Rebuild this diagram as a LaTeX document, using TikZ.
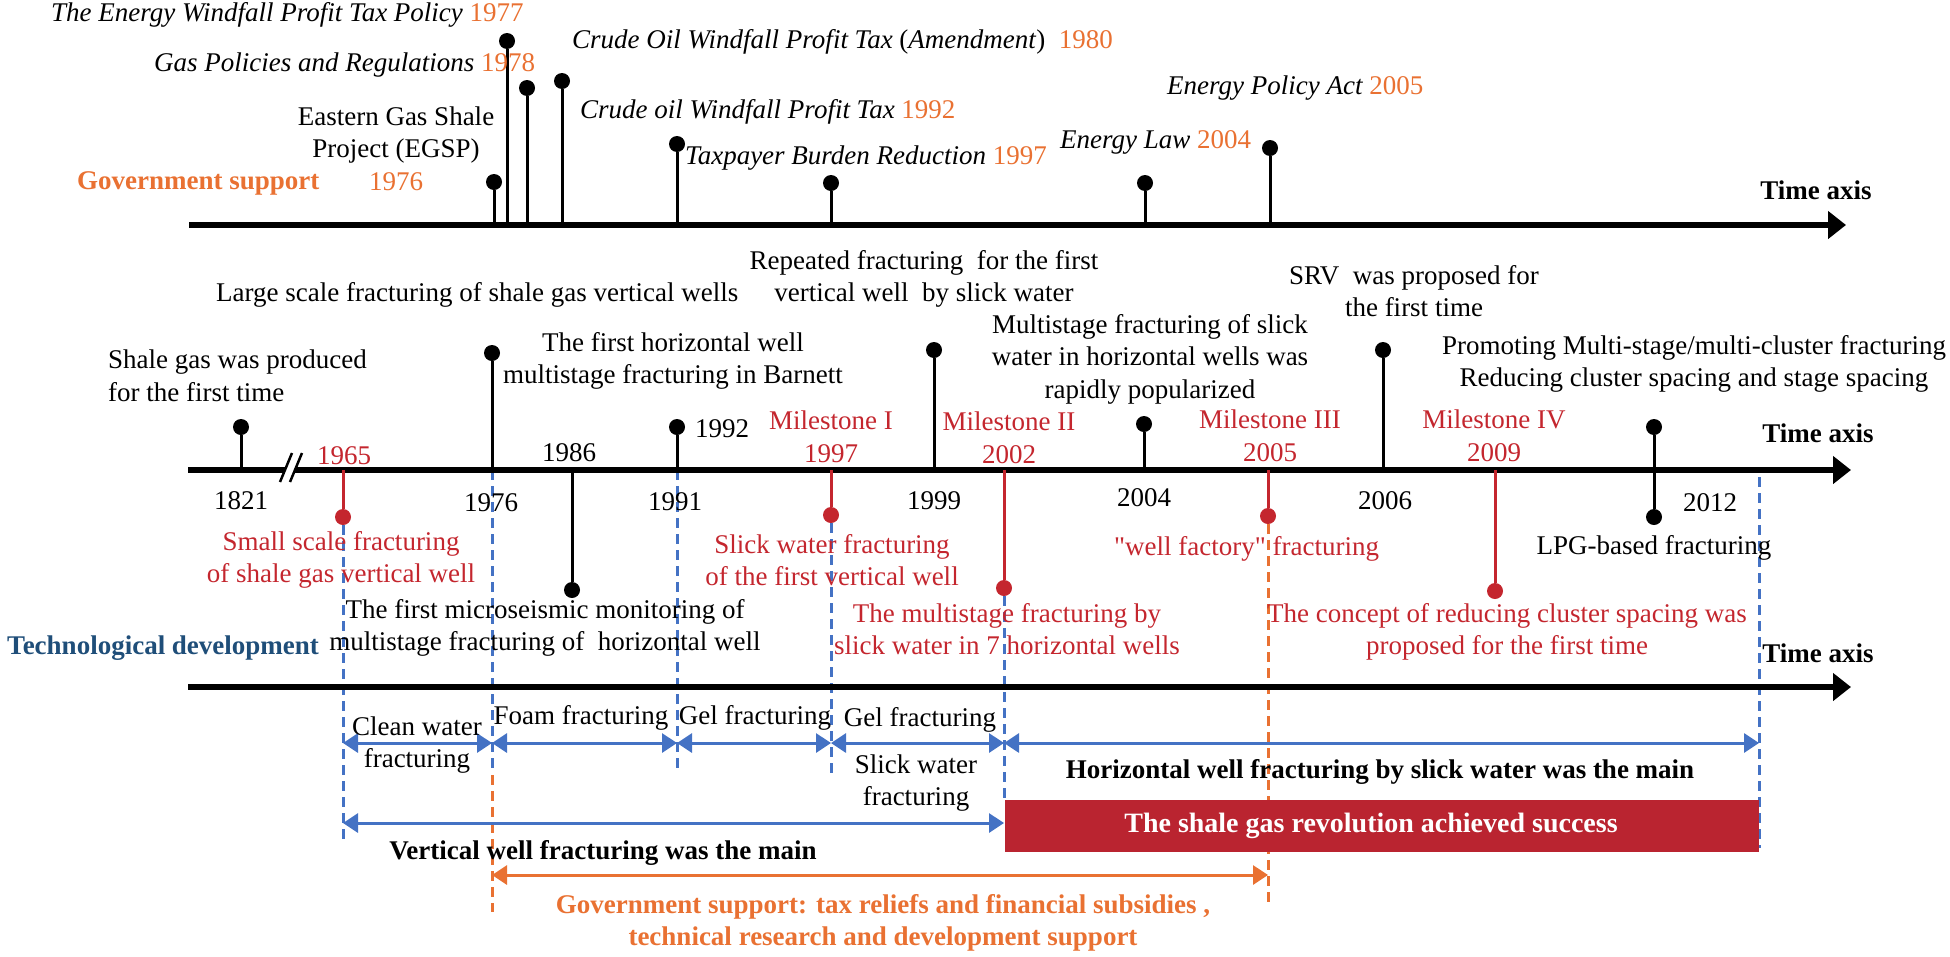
\documentclass[tikz,border=0pt]{standalone}
\usepackage{fontspec}
\setmainfont{Liberation Serif}
\newfontfamily\qfont[Ligatures=ResetAll]{Liberation Serif}
\usetikzlibrary{arrows.meta}
\definecolor{gorange}{RGB}{233,113,50}
\definecolor{mred}{RGB}{196,38,46}
\definecolor{boxred}{RGB}{186,36,48}
\definecolor{lblue}{RGB}{68,114,196}
\definecolor{dblue}{RGB}{31,78,121}
\tikzset{
  axisline/.style={line width=5.5pt, -{Triangle[length=18pt,width=27pt]}},
  stem/.style={line width=3pt},
  rstem/.style={line width=3pt, mred},
  ball/.style={circle, fill=black, inner sep=0pt, minimum size=16pt},
  rball/.style={circle, fill=mred, inner sep=0pt, minimum size=16pt},
  txt/.style={inner sep=0pt, align=center},
  gtxt/.style={txt, font=\fontsize{27}{32.5}\selectfont\itshape},
  rtxt/.style={txt, text=mred},
  btxt/.style={txt, font=\fontsize{27}{32.5}\selectfont\bfseries},
  bdash/.style={lblue, line width=3pt, dash pattern=on 10pt off 6pt},
  odash/.style={gorange, line width=3pt, dash pattern=on 10pt off 6pt},
  spanarrow/.style={lblue, line width=3pt, {Triangle[length=15pt,width=19pt]}-{Triangle[length=15pt,width=19pt]}},
  ospanarrow/.style={gorange, line width=3pt, {Triangle[length=15pt,width=19pt]}-{Triangle[length=15pt,width=19pt]}},
}
\newcommand{\yr}[1]{\upshape\textcolor{gorange}{#1}}
\newcommand{\sq}{{\qfont"}}
\begin{document}
\begin{tikzpicture}[x=1pt,y=-1pt, font=\fontsize{27}{32.5}\selectfont]
\useasboundingbox (0,0) rectangle (1950,956);

% ---------- red milestone balls (needed for guides)
\foreach \n/\x/\y in {r65/343/517, r97/831/515, r02/1004/588, r05/1268/516, r09/1495/591}{
  \coordinate (\n-a) at (\x,470);
  \node[rball] (\n-b) at (\x,\y) {};
}

% ---------- dashed guides
\coordinate (v65e) at (343,843);
\coordinate (v76a) at (492,470); \coordinate (v76b) at (492,771);
\coordinate (v76c) at (492,775); \coordinate (v76d) at (492,912);
\coordinate (v91a) at (677,470); \coordinate (v91b) at (677,773);
\coordinate (v97e) at (831,773);
\coordinate (v02e) at (1004,800);
\coordinate (v05e) at (1268,905);
\coordinate (v12a) at (1759,477); \coordinate (v12b) at (1759,848);
\draw[bdash] (r65-b) -- (v65e);
\draw[bdash] (v76a) -- (v76b);
\draw[odash] (v76c) -- (v76d);
\draw[bdash] (v91a) -- (v91b);
\draw[bdash] (r97-b) -- (v97e);
\draw[bdash] (r02-b) -- (v02e);
\draw[odash] (r05-b) -- (v05e);
\draw[bdash] (v12a) -- (v12b);

% ---------- span arrows
\coordinate (s65) at (343,743); \coordinate (s76) at (492,743);
\coordinate (s91) at (677,743); \coordinate (s97) at (831,743);
\coordinate (s02) at (1004,743); \coordinate (s12) at (1759,743);
\draw[spanarrow] (s65) -- (s76);
\draw[spanarrow] (s76) -- (s91);
\draw[spanarrow] (s91) -- (s97);
\draw[spanarrow] (s97) -- (s02);
\draw[spanarrow] (s02) -- (s12);
\coordinate (w65) at (343,823); \coordinate (w02) at (1004,823);
\draw[spanarrow] (w65) -- (w02);
\coordinate (o76) at (492,875); \coordinate (o05) at (1268,875);
\draw[ospanarrow] (o76) -- (o05);

% ---------- red box
\node[fill=boxred, minimum width=754pt, minimum height=52pt, inner sep=0pt, anchor=north west] (rev) at (1005,800) {};
\node[txt, font=\fontsize{28}{33}\selectfont\bfseries, text=white] (revt) at (1371,826) {The shale gas revolution achieved success};

% ---------- axes
\coordinate (ta0) at (189,225); \coordinate (ta1) at (1846,225);
\draw[axisline] (ta0) -- (ta1);
\coordinate (ma0) at (188,470); \coordinate (ma1) at (1851,470);
\draw[axisline] (ma0) -- (ma1);
\coordinate (ba0) at (188,687); \coordinate (ba1) at (1851,687);
\draw[axisline] (ba0) -- (ba1);
% axis break
\fill[white] (280,482) -- (292,453) -- (302,453) -- (290,482) -- cycle;
\draw[line width=2.5pt] (280,482) -- (292,453) (290,482) -- (302,453);

% ---------- government markers
\foreach \n/\x/\y in {g76/494/182, g77/507/41, g78/527/88, g80/562/81, g92/677/144, g97/831/183, g04/1145/183, g05/1270/148}{
  \coordinate (\n-a) at (\x,225);
  \node[ball] (\n-b) at (\x,\y) {};
  \draw[stem] (\n-a) -- (\n-b);
}

% ---------- technology markers
\foreach \n/\x/\y in {m21/241/427, m76/492/353, m92/677/427, m99/934/350, m04/1144/424, m06/1383/350, m86/572/590}{
  \coordinate (\n-a) at (\x,470);
  \node[ball] (\n-b) at (\x,\y) {};
  \draw[stem] (\n-a) -- (\n-b);
}
\node[ball] (m12-t) at (1654,427) {};
\node[ball] (m12-b) at (1654,517) {};
\draw[stem] (m12-t) -- (m12-b);
\foreach \n in {r65, r97, r02, r05, r09}{
  \draw[rstem] (\n-a) -- (\n-b);
}

% ---------- government texts
\node[gtxt, anchor=west] (t77) at (51,15) {The Energy Windfall Profit Tax Policy \yr{1977}};
\node[gtxt, anchor=west] (t78) at (154,65) {Gas Policies and Regulations \yr{1978}};
\node[gtxt, anchor=west] (t80) at (572,42) {Crude Oil Windfall Profit Tax \textup{(}Amendment\textup{)}\ \ \yr{1980}};
\node[gtxt, anchor=west] (t92) at (580,112) {Crude oil Windfall Profit Tax \yr{1992}};
\node[gtxt, anchor=west] (t97) at (685,158) {Taxpayer Burden Reduction \yr{1997}};
\node[gtxt, anchor=west] (t04) at (1060,142) {Energy Law \yr{2004}};
\node[gtxt, anchor=west] (t05) at (1167,88) {Energy Policy Act \yr{2005}};
\node[txt] (t76) at (396,135) {Eastern Gas Shale\\Project (EGSP)};
\node[txt, text=gorange] (t76y) at (396,182) {1976};
\node[btxt, text=gorange, anchor=west] (gs) at (77,183) {Government support};
\node[btxt] (ta) at (1816,190) {Time axis};

% ---------- technology texts
\node[txt, align=left, anchor=west] (n21) at (108,376) {Shale gas was produced\\for the first time};
\node[txt] (y21) at (241,501) {1821};
\node[rtxt] (y65) at (344,456) {1965};
\node[txt, anchor=west] (n76) at (216,295) {Large scale fracturing of shale gas vertical wells};
\node[txt] (n92) at (673,361) {The first horizontal well\\multistage fracturing in Barnett};
\node[txt] (y86) at (569,453) {1986};
\node[txt] (y76) at (491,503) {1976};
\node[txt, anchor=west] (y92) at (695,429) {1992};
\node[txt] (y91) at (675,502) {1991};
\node[rtxt] (ms1) at (831,437) {Milestone I\\1997};
\node[txt] (n99) at (924,279) {Repeated fracturing\ \ for the first\\vertical well\ \ by slick water};
\node[txt] (y99) at (934,501) {1999};
\node[rtxt] (ms2) at (1009,438) {Milestone II\\2002};
\node[txt] (n04) at (1150,359) {Multistage fracturing of slick\\water in horizontal wells was\\rapidly popularized};
\node[txt] (y04) at (1144,498) {2004};
\node[rtxt] (ms3) at (1270,436) {Milestone III\\2005};
\node[txt] (n06) at (1414,291) {SRV\ \ was proposed for\\the first time};
\node[txt] (y06) at (1385,501) {2006};
\node[rtxt] (ms4) at (1494,436) {Milestone IV\\2009};
\node[txt] (n12) at (1694,364) {Promoting Multi-stage/multi-cluster fracturing\\Reducing cluster spacing and stage spacing};
\node[txt] (y12) at (1710,503) {2012};
\node[btxt] (ta2) at (1818,433) {Time axis};
\node[txt] (n12b) at (1654,548) {LPG-based fracturing};
\node[rtxt] (n65) at (341,560) {Small scale fracturing\\of shale gas vertical well};
\node[txt] (n86) at (545,628) {The first microseismic monitoring of\\multistage fracturing of\ \ horizontal well};
\node[rtxt] (n97) at (832,560) {Slick water fracturing\\of the first vertical well};
\node[rtxt] (n02) at (1007,629) {The multistage fracturing by\\slick water in 7 horizontal wells};
\node[rtxt, anchor=west] (n05) at (1114,549) {\sq well factory\sq{} fracturing};
\node[rtxt] (n09) at (1507,632) {The concept of reducing cluster spacing was\\proposed for the first time};
\node[btxt, text=dblue, anchor=west] (td) at (7,648) {Technological development};

% ---------- bottom texts
\node[btxt] (ta3) at (1818,653) {Time axis};
\node[txt] (cw) at (417,745) {Clean water\\fracturing};
\node[txt] (ff) at (581,718) {Foam fracturing};
\node[txt] (gf1) at (755,718) {Gel fracturing};
\node[txt] (gf2) at (920,720) {Gel fracturing};
\node[txt] (sw) at (916,783) {Slick water\\fracturing};
\node[btxt] (hw) at (1380,772) {Horizontal well fracturing by slick water was the main};
\node[btxt] (vw) at (603,853) {Vertical well fracturing was the main};
\node[btxt, text=gorange] (gsup) at (883,923) {Government support: tax reliefs and financial subsidies ,\\technical research and development support};
\end{tikzpicture}
\end{document}
